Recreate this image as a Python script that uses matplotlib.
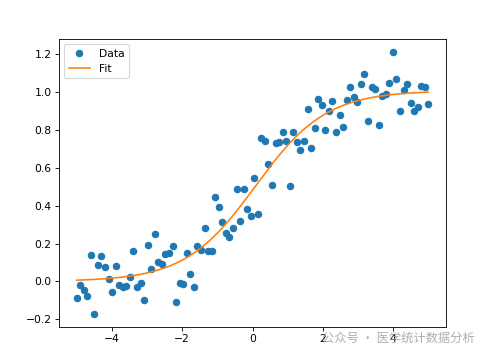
import numpy as np
import matplotlib
matplotlib.use("Agg")
import matplotlib.pyplot as plt

x_start, x_stop, n_points = -5, 5, 100
y_data = [
    -0.090, -0.021, -0.044, -0.077, 0.140, -0.172, 0.085, 0.134, 0.076, 0.013,
    -0.058, 0.079, -0.019, -0.028, -0.024, 0.025, 0.161, -0.030, -0.011, -0.098,
    0.194, 0.066, 0.251, 0.103, 0.094, 0.147, 0.152, 0.189, -0.109, -0.007,
    -0.016, 0.148, 0.039, -0.030, 0.189, 0.166, 0.283, 0.161, 0.161, 0.448,
    0.392, 0.312, 0.256, 0.235, 0.283, 0.489, 0.317, 0.489, 0.381, 0.346,
    0.547, 0.357, 0.759, 0.743, 0.621, 0.512, 0.732, 0.738, 0.792, 0.743,
    0.506, 0.792, 0.738, 0.692, 0.743, 0.910, 0.707, 0.812, 0.965, 0.930,
    0.799, 0.898, 0.951, 0.787, 0.882, 0.815, 0.958, 1.025, 0.974, 0.947,
    1.041, 1.095, 0.850, 1.026, 1.018, 0.828, 0.981, 0.988, 1.050, 1.212,
    1.071, 0.902, 1.014, 1.041, 0.944, 0.902, 0.923, 1.034, 1.030, 0.935,
]
watermark = "公众号 · 医学统计数据分析"


def logistic(x, L, k, x0):
    return L / (1 + np.exp(-k * (x - x0)))


def fit_logistic(x, y):
    # plain Gauss-Newton, good enough for 3 params
    p = np.array([1.0, 1.0, 0.0])
    for _ in range(60):
        L, k, x0 = p
        e = np.exp(-k * (x - x0))
        f = L / (1 + e)
        J = np.column_stack([1 / (1 + e),
                             L * (x - x0) * e / (1 + e) ** 2,
                             -L * k * e / (1 + e) ** 2])
        p = p + np.linalg.lstsq(J, y - f, rcond=None)[0]
    return p


x = np.linspace(x_start, x_stop, n_points)
y = np.array(y_data)
params = fit_logistic(x, y)
x_fit = np.linspace(x_start, x_stop, 300)

fig = plt.figure(figsize=(493 / 77, 359 / 77), dpi=77)
ax = fig.add_axes([59 / 493, 32 / 359, 387 / 493, 288 / 359])
ax.plot(x, y, 'o', label='Data')
ax.plot(x_fit, logistic(x_fit, *params), '-', label='Fit')
ax.legend(loc='upper left')

fig.text(322 / 493, 1 - 338 / 359, watermark, fontsize=11.5, color='#9a9a9a',
         alpha=0.8, va='center', family=['Noto Sans CJK SC', 'DejaVu Sans'])

fig.savefig("out.png", dpi=77)
